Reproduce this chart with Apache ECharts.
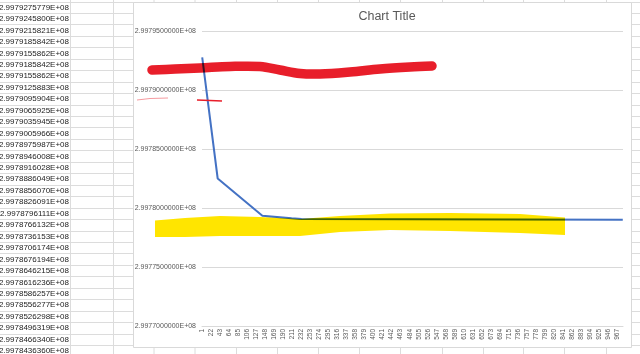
<!DOCTYPE html>
<html>
<head>
<meta charset="utf-8">
<script src="https://cdn.jsdelivr.net/npm/echarts@6/dist/echarts.min.js"></script>
<style>
html,body{margin:0;padding:0;background:#fff;}
#c{width:640px;height:354px;}
</style>
</head>
<body>
<div id="c"></div>
<script>
// ---- chart data ----
const categoryCount = 980;            // x categories 1..980
const keyCategories = [1, 37, 141, 209, 232, 980];
const keyValues = [299792758, 299782500, 299779350, 299779130, 299779060, 299779010];
const yTicks = { min: 299770000, max: 299795000, interval: 5000 };
const chartTitle = 'Chart Title';

// ---- spreadsheet column A texts ----
const sheetValues = [
  '2.9979275779E+08','2.9979245800E+08','2.9979215821E+08','2.9979185842E+08',
  '2.9979155862E+08','2.9979185842E+08','2.9979155862E+08','2.9979125883E+08',
  '2.9979095904E+08','2.9979065925E+08','2.9979035945E+08','2.9979005966E+08',
  '2.9978975987E+08','2.9978946008E+08','2.9978916028E+08','2.9978886049E+08',
  '2.9978856070E+08','2.9978826091E+08','2.9978796111E+08','2.9978766132E+08',
  '2.9978736153E+08','2.9978706174E+08','2.9978676194E+08','2.9978646215E+08',
  '2.9978616236E+08','2.9978586257E+08','2.9978556277E+08','2.9978526298E+08',
  '2.9978496319E+08','2.9978466340E+08','2.9978436360E+08'
];

const categories = [];
for (let i = 1; i <= categoryCount; i++) categories.push(String(i));
const seriesData = new Array(categoryCount).fill(null);
keyCategories.forEach((c, k) => { seriesData[c - 1] = keyValues[k]; });

// ---- decorations (sheet + chart frame + scribbles) ----
const graphics = [];
const gridColor = '#dcdcdc';
const colLines = [70, 113, 153.5, 194.5, 236, 277, 318, 359, 400, 442, 483, 523, 564, 606];
const rowTop = 1.5, rowH = 11.45;
colLines.forEach(x => graphics.push({type:'line', z:-30, shape:{x1:x+0.5,y1:0,x2:x+0.5,y2:354}, style:{stroke:gridColor,lineWidth:1}}));
for (let k = 0; k < 32; k++) {
  const y = Math.round(rowTop + rowH * k) + 0.5;
  graphics.push({type:'line', z:-30, shape:{x1:0,y1:y,x2:640,y2:y}, style:{stroke:gridColor,lineWidth:1}});
}
sheetValues.forEach((t, k) => graphics.push({
  type:'text', z:-20, x:69, y: rowTop + rowH * k + rowH / 2 + 0.3,
  style:{text:t, fill:'#222', font:'8px "Liberation Sans"', align:'right', verticalAlign:'middle'}
}));
graphics.push({type:'rect', z:-10, shape:{x:133.5,y:2.5,width:498,height:345}, style:{fill:'#fff', stroke:'#d9d9d9', lineWidth:1}});
// red scribble
graphics.push({type:'polyline', z:100, shape:{smooth:0.35, points:[[152,70],[175,69],[200,68],[230,66.5],[260,66.5],[280,70],[300,73.5],[320,74],[350,72],[380,69],[410,67],[432,66]]},
  style:{stroke:'#e81e2a', lineWidth:9.5, lineCap:'round', lineJoin:'round', fill:null, blend:'multiply'}});
graphics.push({type:'polyline', z:100, shape:{points:[[197,100],[210,100.5],[222,101]]}, style:{stroke:'#e81e2a', lineWidth:1.6, fill:null}});
graphics.push({type:'polyline', z:100, shape:{points:[[137,100],[150,98.5],[168,98]]}, style:{stroke:'rgba(232,30,42,0.45)', lineWidth:1, fill:null}});
// yellow highlighter
graphics.push({type:'polygon', z:100, shape:{points:[[155,220.5],[185,218],[220,216],[260,217],[300,219],[340,216],[390,213.5],[450,213],[520,214],[565,217.5],
  [565,235],[520,233],[450,231],[390,230],[340,232],[300,236],[260,236],[220,236],[185,237],[155,237]]},
  style:{fill:'#ffe500', blend:'multiply'}});

const chart = echarts.init(document.getElementById('c'), null, {renderer:'canvas'});
chart.setOption({
  backgroundColor: 'transparent',
  animation: false,
  title: { text: chartTitle, left: 382, top: 5, textAlign:'center',
    textStyle: { color:'#595959', fontSize:12.5, fontWeight:'normal', fontFamily:'"Liberation Sans"' } },
  grid: { left: 202, right: 17, top: 31, bottom: 28, containLabel: false },
  xAxis: {
    type: 'category', data: categories, boundaryGap: true,
    axisLine: { lineStyle: { color:'#d9d9d9' } },
    axisTick: { show:false },
    axisLabel: { interval: 20, rotate: 90, fontSize: 6.5, color:'#595959', margin: 3, fontFamily:'"Liberation Sans"' },
    splitLine: { show:false }
  },
  yAxis: {
    type: 'value', min: yTicks.min, max: yTicks.max, interval: yTicks.interval,
    axisLine: { show:false }, axisTick: { show:false },
    axisLabel: { fontSize: 7, color:'#595959', margin: 6, fontFamily:'"Liberation Sans"',
      formatter: v => (v / 1e8).toFixed(10) + 'E+08' },
    splitLine: { lineStyle: { color:'#d9d9d9' } }
  },
  series: [{
    type: 'line', data: seriesData, connectNulls: true, showSymbol: false, symbol:'none',
    lineStyle: { color:'#4472c4', width: 2 }, itemStyle:{color:'#4472c4'}, z: 3
  }],
  graphic: { elements: graphics }
});
</script>
</body>
</html>
